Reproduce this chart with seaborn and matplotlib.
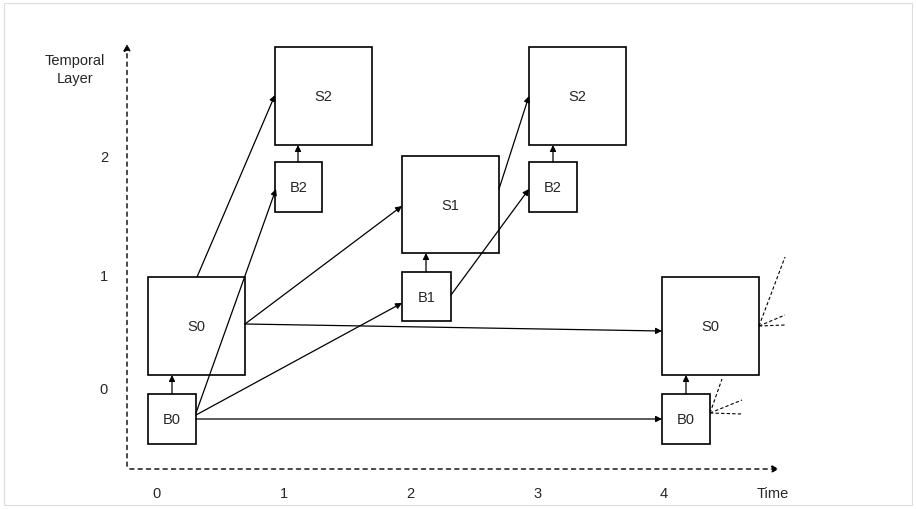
import matplotlib
matplotlib.use("Agg")
import matplotlib.pyplot as plt
import seaborn as sns
from matplotlib.patches import Rectangle, FancyArrowPatch

sns.set_theme(style="white")
plt.rcParams['font.family'] = ['Liberation Sans', 'DejaVu Sans']

# pixel -> data mapping
PX0, PXU = 157, 126.7
PY0, PYU = 390, 116.0


def d(px, py):
    return (px - PX0) / PXU, (PY0 - py) / PYU


# boxes: label, left px, top px, right px, bottom px
box_labels = ["B0", "S0", "B2", "S2", "B1", "S1", "B2", "S2", "S0", "B0"]
box_left = [148, 148, 275, 275, 402, 402, 529, 529, 662, 662]
box_top = [395, 278, 163, 48, 273, 157, 163, 48, 278, 395]
box_right = [196, 245, 322, 372, 451, 499, 577, 626, 759, 710]
box_bottom = [445, 376, 213, 146, 322, 254, 213, 146, 376, 445]

# arrows between boxes (pixel start -> end)
arrows = [
    ((172, 395), (172, 376)), ((197, 278), (275, 96)), ((196, 414), (276, 190)),
    ((245, 325), (402, 207)), ((245, 325), (662, 332)), ((196, 416), (402, 304)),
    ((196, 420), (662, 420)), ((298, 163), (298, 146)), ((426, 273), (426, 254)),
    ((451, 296), (529, 190)), ((499, 190), (529, 97)), ((553, 163), (553, 146)),
    ((686, 395), (686, 376)),
]
dashed = [
    ((759, 327), (785, 258)), ((759, 327), (785, 316)), ((759, 327), (785, 326)),
    ((710, 414), (742, 401)), ((710, 414), (742, 415)), ((710, 414), (722, 380)),
]

time_ticks = ["0", "1", "2", "3", "4"]
layer_ticks = ["0", "1", "2"]
layer_tick_py = [390, 277, 158]

fig = plt.figure(figsize=(9.16, 5.10), dpi=100)
ax = fig.add_axes([0, 0, 1, 1])
x0, y1 = d(0, 0)
x1, y0 = d(916, 510)
ax.set_xlim(x0, x1)
ax.set_ylim(y0, y1)
ax.axis("off")

# frame
ax.add_patch(Rectangle(d(4, 506), 908 / PXU, 502 / PYU, fill=False,
                       ec="#dddddd", lw=0.8))

# dashed axes with arrowheads
ax.add_patch(FancyArrowPatch(d(127, 470), d(127, 42), arrowstyle="-|>",
                             mutation_scale=10, ls=(0, (3, 3)), lw=1, color="black"))
ax.add_patch(FancyArrowPatch(d(127, 470), d(782, 470), arrowstyle="-|>",
                             mutation_scale=10, ls=(0, (3, 3)), lw=1, color="black"))

for i, t in enumerate(time_ticks):
    ax.text(i, d(0, 494)[1], t, ha="center", va="center", fontsize=10.5)
ax.text(*d(773, 494), "Time", ha="center", va="center", fontsize=10.5)
for l, py in zip(layer_ticks, layer_tick_py):
    ax.text(*d(104, py), l, ha="center", va="center", fontsize=10.5)
ax.text(*d(75, 70), "Temporal\nLayer", ha="center", va="center", fontsize=10.5,
        linespacing=1.3)

for lab, l, t, r, b in zip(box_labels, box_left, box_top, box_right, box_bottom):
    xl, yb = d(l, b)
    xr, yt = d(r, t)
    ax.add_patch(Rectangle((xl, yb), xr - xl, yt - yb, fc="white", ec="black",
                           lw=1.2, zorder=2))
    ax.text((xl + xr) / 2, (yb + yt) / 2, lab, ha="center", va="center",
            fontsize=10.5, zorder=3)

for s, e in arrows:
    ax.add_patch(FancyArrowPatch(d(*s), d(*e), arrowstyle="-|>", mutation_scale=9,
                                 lw=0.9, color="black", shrinkA=0, shrinkB=0, zorder=4))
for s, e in dashed:
    ax.plot(*zip(d(*s), d(*e)), ls=(0, (3, 2)), lw=0.8, color="black")

fig.savefig("out.png", dpi=100)
